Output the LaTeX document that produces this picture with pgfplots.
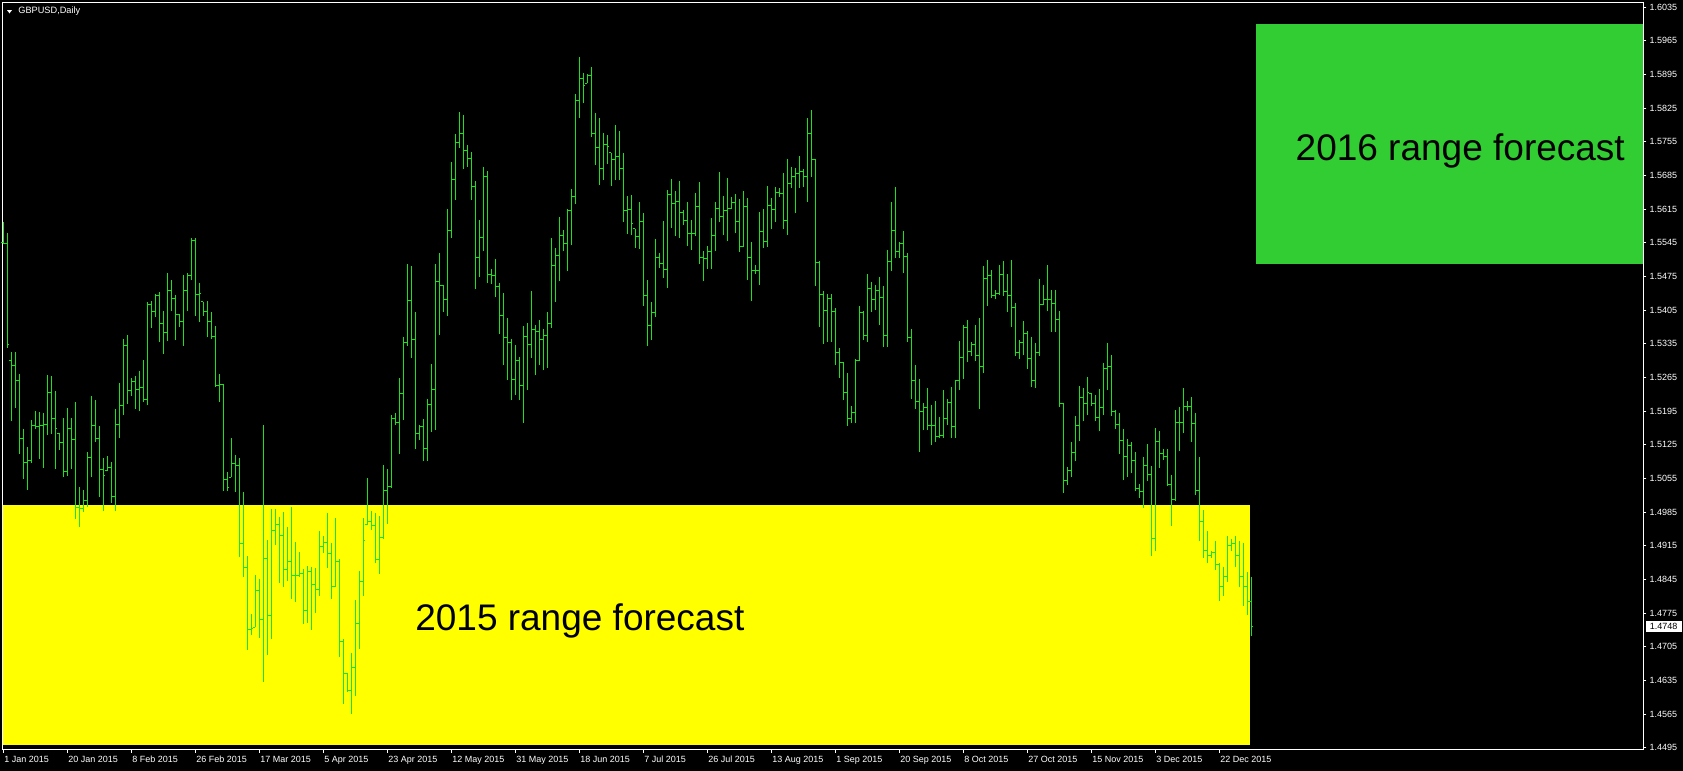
\documentclass[border=0pt]{standalone}
\usepackage{fontspec}
\setmainfont{Liberation Sans}
\usepackage{pgfplots}
\pgfplotsset{compat=1.18}
\usepackage{pgfplotstable}

\definecolor{barcol}{RGB}{30,225,30}
\definecolor{yel}{RGB}{255,255,0}
\definecolor{grn}{RGB}{50,205,50}

% close tick to the right, open tick to the left
\pgfdeclareplotmark{ctick}{\pgfpathmoveto{\pgfqpoint{0pt}{0pt}}\pgfpathlineto{\pgfqpoint{\pgfplotmarksize}{0pt}}\pgfusepathqstroke}
\pgfdeclareplotmark{otick}{\pgfpathmoveto{\pgfqpoint{0pt}{0pt}}\pgfpathlineto{\pgfqpoint{-\pgfplotmarksize}{0pt}}\pgfusepathqstroke}

% GBPUSD daily bars, 2015 (bar index, open, high, low, close)
\pgfplotstableread{
x o h l c
0 1.5545 1.5589 1.5542 1.5544
1 1.5544 1.5566 1.5327 1.5334
2 1.5301 1.5318 1.5175 1.5289
3 1.5289 1.5318 1.5202 1.5259
4 1.5259 1.5273 1.5106 1.5138
5 1.5138 1.5158 1.5054 1.5088
6 1.5088 1.5120 1.5031 1.5093
7 1.5093 1.5176 1.5088 1.5165
8 1.5165 1.5195 1.5158 1.5162
9 1.5162 1.5193 1.5096 1.5165
10 1.5165 1.5191 1.5077 1.5167
11 1.5167 1.5270 1.5145 1.5234
12 1.5234 1.5268 1.5148 1.5180
13 1.5180 1.5237 1.5075 1.5158
14 1.5149 1.5149 1.5113 1.5130
15 1.5130 1.5181 1.5057 1.5069
16 1.5069 1.5201 1.5059 1.5158
17 1.5158 1.5181 1.5075 1.5135
18 1.5135 1.5214 1.4971 1.4995
19 1.4995 1.5037 1.4953 1.4993
20 1.4993 1.5031 1.4986 1.5010
21 1.5010 1.5110 1.4996 1.5099
22 1.5099 1.5226 1.5057 1.5165
23 1.5165 1.5219 1.5131 1.5138
24 1.5138 1.5164 1.5017 1.5073
25 1.5073 1.5097 1.4988 1.5062
26 1.5071 1.5102 1.5071 1.5078
27 1.5078 1.5089 1.5004 1.5018
28 1.5018 1.5199 1.4988 1.5167
29 1.5167 1.5253 1.5138 1.5207
30 1.5207 1.5345 1.5187 1.5332
31 1.5332 1.5353 1.5210 1.5237
32 1.5237 1.5264 1.5227 1.5257
33 1.5257 1.5268 1.5200 1.5239
34 1.5239 1.5278 1.5196 1.5244
35 1.5244 1.5301 1.5214 1.5219
36 1.5219 1.5421 1.5208 1.5416
37 1.5416 1.5424 1.5368 1.5403
38 1.5403 1.5438 1.5391 1.5435
39 1.5435 1.5443 1.5339 1.5377
40 1.5377 1.5403 1.5314 1.5358
41 1.5358 1.5482 1.5341 1.5446
42 1.5446 1.5468 1.5404 1.5428
43 1.5428 1.5436 1.5343 1.5396
44 1.5396 1.5397 1.5369 1.5382
45 1.5382 1.5478 1.5331 1.5446
46 1.5446 1.5482 1.5402 1.5477
47 1.5477 1.5555 1.5468 1.5550
48 1.5550 1.5554 1.5393 1.5438
49 1.5438 1.5461 1.5381 1.5440
50 1.5422 1.5422 1.5393 1.5403
51 1.5403 1.5424 1.5349 1.5382
52 1.5382 1.5401 1.5344 1.5350
53 1.5350 1.5372 1.5246 1.5248
54 1.5248 1.5273 1.5213 1.5251
55 1.5251 1.5252 1.5029 1.5053
56 1.5053 1.5068 1.5029 1.5036
57 1.5057 1.5139 1.5057 1.5085
58 1.5085 1.5104 1.5027 1.5081
59 1.5081 1.5097 1.4892 1.4920
60 1.4920 1.5027 1.4851 1.4870
61 1.4870 1.4894 1.4698 1.4741
62 1.4741 1.4773 1.4729 1.4743
63 1.4746 1.4854 1.4746 1.4822
64 1.4822 1.4846 1.4724 1.4761
65 1.4761 1.5166 1.4632 1.4889
66 1.4889 1.4927 1.4688 1.4770
67 1.4770 1.4991 1.4722 1.4946
68 1.4946 1.4991 1.4917 1.4960
69 1.4960 1.4975 1.4838 1.4937
70 1.4937 1.4985 1.4830 1.4866
71 1.4866 1.4954 1.4842 1.4883
72 1.4883 1.4995 1.4805 1.4854
73 1.4854 1.4923 1.4797 1.4854
74 1.4854 1.4902 1.4851 1.4858
75 1.4858 1.4867 1.4753 1.4781
76 1.4781 1.4873 1.4755 1.4862
77 1.4862 1.4871 1.4739 1.4835
78 1.4835 1.4869 1.4776 1.4824
79 1.4824 1.4946 1.4811 1.4914
80 1.4914 1.4935 1.4899 1.4921
81 1.4921 1.4983 1.4869 1.4898
82 1.4898 1.4921 1.4804 1.4830
83 1.4830 1.4973 1.4829 1.4882
84 1.4882 1.4887 1.4684 1.4716
85 1.4716 1.4721 1.4586 1.4649
86 1.4649 1.4650 1.4611 1.4615
87 1.4615 1.4692 1.4566 1.4661
88 1.4661 1.4802 1.4603 1.4753
89 1.4753 1.4863 1.4701 1.4841
90 1.4841 1.4973 1.4811 1.4926
91 1.4959 1.5056 1.4959 1.4966
92 1.4966 1.4987 1.4948 1.4957
93 1.4957 1.4983 1.4880 1.4886
94 1.4886 1.4977 1.4857 1.4933
95 1.4933 1.5083 1.4929 1.5029
96 1.5029 1.5075 1.4961 1.5038
97 1.5038 1.5187 1.5036 1.5180
98 1.5180 1.5190 1.5165 1.5172
99 1.5172 1.5264 1.5106 1.5232
100 1.5232 1.5348 1.5176 1.5338
101 1.5338 1.5501 1.5331 1.5425
102 1.5425 1.5497 1.5306 1.5344
103 1.5344 1.5400 1.5117 1.5149
104 1.5149 1.5167 1.5135 1.5162
105 1.5162 1.5178 1.5092 1.5118
106 1.5118 1.5220 1.5092 1.5209
107 1.5209 1.5293 1.5152 1.5240
108 1.5240 1.5501 1.5156 1.5465
109 1.5465 1.5524 1.5353 1.5456
110 1.5456 1.5457 1.5401 1.5427
111 1.5427 1.5615 1.5393 1.5571
112 1.5571 1.5713 1.5555 1.5677
113 1.5677 1.5771 1.5633 1.5754
114 1.5754 1.5817 1.5741 1.5773
115 1.5773 1.5811 1.5699 1.5737
116 1.5737 1.5748 1.5703 1.5720
117 1.5720 1.5734 1.5634 1.5661
118 1.5661 1.5673 1.5449 1.5515
119 1.5515 1.5592 1.5474 1.5556
120 1.5556 1.5702 1.5528 1.5682
121 1.5682 1.5694 1.5462 1.5479
122 1.5479 1.5490 1.5459 1.5477
123 1.5477 1.5511 1.5433 1.5453
124 1.5453 1.5461 1.5356 1.5394
125 1.5394 1.5441 1.5291 1.5348
126 1.5348 1.5388 1.5260 1.5337
127 1.5337 1.5345 1.5218 1.5260
128 1.5260 1.5332 1.5228 1.5301
129 1.5301 1.5307 1.5218 1.5249
130 1.5249 1.5372 1.5170 1.5350
131 1.5350 1.5378 1.5239 1.5334
132 1.5334 1.5445 1.5305 1.5365
133 1.5365 1.5374 1.5270 1.5361
134 1.5361 1.5384 1.5291 1.5343
135 1.5343 1.5366 1.5280 1.5352
136 1.5352 1.5401 1.5285 1.5377
137 1.5377 1.5555 1.5368 1.5498
138 1.5498 1.5534 1.5422 1.5519
139 1.5519 1.5598 1.5465 1.5560
140 1.5560 1.5572 1.5528 1.5544
141 1.5544 1.5615 1.5486 1.5612
142 1.5612 1.5657 1.5540 1.5642
143 1.5642 1.5854 1.5625 1.5841
144 1.5841 1.5931 1.5804 1.5887
145 1.5887 1.5898 1.5835 1.5872
146 1.5876 1.5896 1.5876 1.5893
147 1.5893 1.5910 1.5765 1.5771
148 1.5771 1.5815 1.5707 1.5743
149 1.5743 1.5804 1.5665 1.5700
150 1.5700 1.5773 1.5675 1.5750
151 1.5750 1.5769 1.5709 1.5746
152 1.5732 1.5732 1.5663 1.5719
153 1.5719 1.5790 1.5675 1.5725
154 1.5725 1.5777 1.5675 1.5699
155 1.5699 1.5732 1.5588 1.5612
156 1.5612 1.5642 1.5563 1.5614
157 1.5614 1.5644 1.5561 1.5585
158 1.5574 1.5574 1.5534 1.5558
159 1.5558 1.5630 1.5532 1.5590
160 1.5590 1.5607 1.5413 1.5436
161 1.5436 1.5468 1.5330 1.5373
162 1.5373 1.5422 1.5343 1.5399
163 1.5399 1.5553 1.5391 1.5514
164 1.5514 1.5524 1.5492 1.5502
165 1.5502 1.5590 1.5472 1.5489
166 1.5489 1.5655 1.5451 1.5645
167 1.5645 1.5678 1.5576 1.5627
168 1.5627 1.5653 1.5559 1.5630
169 1.5630 1.5673 1.5555 1.5607
170 1.5607 1.5613 1.5582 1.5592
171 1.5592 1.5630 1.5538 1.5565
172 1.5565 1.5592 1.5530 1.5565
173 1.5565 1.5648 1.5558 1.5621
174 1.5621 1.5671 1.5501 1.5515
175 1.5515 1.5528 1.5466 1.5512
176 1.5512 1.5538 1.5491 1.5527
177 1.5527 1.5596 1.5491 1.5560
178 1.5560 1.5630 1.5528 1.5617
179 1.5617 1.5692 1.5587 1.5600
180 1.5600 1.5642 1.5562 1.5612
181 1.5612 1.5680 1.5549 1.5617
182 1.5617 1.5640 1.5616 1.5629
183 1.5629 1.5646 1.5566 1.5590
184 1.5590 1.5636 1.5526 1.5537
185 1.5537 1.5653 1.5537 1.5621
186 1.5621 1.5638 1.5468 1.5514
187 1.5514 1.5547 1.5424 1.5488
188 1.5488 1.5499 1.5479 1.5487
189 1.5487 1.5609 1.5458 1.5569
190 1.5569 1.5615 1.5535 1.5548
191 1.5548 1.5663 1.5537 1.5623
192 1.5623 1.5638 1.5574 1.5614
193 1.5614 1.5661 1.5589 1.5650
194 1.5650 1.5659 1.5641 1.5648
195 1.5648 1.5690 1.5574 1.5592
196 1.5592 1.5719 1.5562 1.5669
197 1.5669 1.5702 1.5659 1.5683
198 1.5683 1.5700 1.5607 1.5689
199 1.5689 1.5725 1.5659 1.5693
200 1.5693 1.5698 1.5661 1.5683
201 1.5683 1.5804 1.5630 1.5771
202 1.5771 1.5821 1.5682 1.5719
203 1.5719 1.5719 1.5454 1.5503
204 1.5503 1.5507 1.5370 1.5438
205 1.5438 1.5445 1.5335 1.5404
206 1.5404 1.5438 1.5339 1.5428
207 1.5428 1.5438 1.5339 1.5401
208 1.5401 1.5409 1.5291 1.5317
209 1.5317 1.5327 1.5264 1.5296
210 1.5296 1.5298 1.5219 1.5233
211 1.5233 1.5275 1.5164 1.5179
212 1.5179 1.5206 1.5171 1.5192
213 1.5192 1.5304 1.5171 1.5301
214 1.5301 1.5414 1.5300 1.5399
215 1.5399 1.5404 1.5343 1.5352
216 1.5352 1.5479 1.5339 1.5450
217 1.5450 1.5464 1.5400 1.5427
218 1.5427 1.5458 1.5406 1.5445
219 1.5445 1.5474 1.5373 1.5431
220 1.5431 1.5454 1.5329 1.5352
221 1.5352 1.5530 1.5329 1.5506
222 1.5506 1.5630 1.5487 1.5571
223 1.5571 1.5661 1.5514 1.5527
224 1.5527 1.5547 1.5514 1.5544
225 1.5544 1.5570 1.5481 1.5517
226 1.5517 1.5524 1.5339 1.5348
227 1.5348 1.5366 1.5221 1.5259
228 1.5259 1.5291 1.5200 1.5215
229 1.5215 1.5262 1.5110 1.5194
230 1.5194 1.5212 1.5156 1.5203
231 1.5203 1.5242 1.5156 1.5165
232 1.5165 1.5208 1.5125 1.5165
233 1.5165 1.5215 1.5131 1.5143
234 1.5143 1.5183 1.5138 1.5144
235 1.5144 1.5239 1.5138 1.5180
236 1.5180 1.5220 1.5166 1.5213
237 1.5213 1.5245 1.5138 1.5163
238 1.5163 1.5260 1.5140 1.5258
239 1.5258 1.5341 1.5239 1.5307
240 1.5307 1.5374 1.5262 1.5369
241 1.5369 1.5384 1.5298 1.5319
242 1.5319 1.5339 1.5310 1.5334
243 1.5334 1.5374 1.5300 1.5311
244 1.5311 1.5389 1.5200 1.5287
245 1.5287 1.5497 1.5275 1.5471
246 1.5471 1.5509 1.5414 1.5477
247 1.5477 1.5488 1.5431 1.5436
248 1.5436 1.5447 1.5427 1.5440
249 1.5440 1.5499 1.5437 1.5479
250 1.5479 1.5507 1.5435 1.5444
251 1.5444 1.5480 1.5400 1.5436
252 1.5436 1.5509 1.5370 1.5411
253 1.5411 1.5420 1.5310 1.5317
254 1.5317 1.5343 1.5304 1.5337
255 1.5337 1.5382 1.5312 1.5356
256 1.5356 1.5361 1.5283 1.5305
257 1.5305 1.5349 1.5246 1.5259
258 1.5259 1.5336 1.5242 1.5317
259 1.5317 1.5470 1.5310 1.5417
260 1.5417 1.5457 1.5415 1.5427
261 1.5427 1.5499 1.5404 1.5427
262 1.5427 1.5447 1.5360 1.5419
263 1.5419 1.5447 1.5360 1.5386
264 1.5386 1.5403 1.5204 1.5211
265 1.5211 1.5211 1.5025 1.5051
266 1.5051 1.5079 1.5042 1.5072
267 1.5072 1.5131 1.5057 1.5109
268 1.5109 1.5185 1.5092 1.5165
269 1.5165 1.5247 1.5133 1.5224
270 1.5224 1.5243 1.5175 1.5211
271 1.5211 1.5266 1.5187 1.5233
272 1.5232 1.5232 1.5206 1.5211
273 1.5211 1.5228 1.5175 1.5181
274 1.5181 1.5241 1.5154 1.5202
275 1.5202 1.5295 1.5187 1.5284
276 1.5284 1.5337 1.5239 1.5288
277 1.5288 1.5312 1.5185 1.5194
278 1.5194 1.5198 1.5158 1.5167
279 1.5167 1.5191 1.5106 1.5134
280 1.5134 1.5158 1.5052 1.5101
281 1.5101 1.5137 1.5057 1.5124
282 1.5124 1.5131 1.5067 1.5092
283 1.5092 1.5110 1.5029 1.5034
284 1.5034 1.5043 1.5015 1.5028
285 1.5028 1.5100 1.4994 1.5082
286 1.5082 1.5127 1.5050 1.5064
287 1.5064 1.5081 1.4894 1.4929
288 1.4929 1.5160 1.4903 1.5132
289 1.5132 1.5154 1.5077 1.5107
290 1.5107 1.5116 1.5094 1.5101
291 1.5101 1.5116 1.5040 1.5043
292 1.5043 1.5062 1.4957 1.5012
293 1.5012 1.5197 1.5007 1.5172
294 1.5172 1.5203 1.5111 1.5172
295 1.5172 1.5242 1.5150 1.5205
296 1.5205 1.5215 1.5195 1.5205
297 1.5205 1.5225 1.5130 1.5170
298 1.5170 1.5190 1.5020 1.5030
299 1.5030 1.5100 1.4925 1.4965
300 1.4965 1.4990 1.4890 1.4905
301 1.4905 1.4945 1.4880 1.4895
302 1.4895 1.4905 1.4890 1.4900
303 1.4900 1.4925 1.4865 1.4875
304 1.4875 1.4880 1.4800 1.4830
305 1.4830 1.4870 1.4810 1.4850
306 1.4850 1.4935 1.4840 1.4915
307 1.4915 1.4930 1.4905 1.4920
308 1.4920 1.4935 1.4870 1.4895
309 1.4895 1.4925 1.4830 1.4850
310 1.4850 1.4920 1.4790 1.4830
311 1.4830 1.4860 1.4770 1.4800
312 1.4800 1.4850 1.4728 1.4748
}\bars

\begin{document}
\begin{tikzpicture}
\path[use as bounding box, fill=black] (-1.35pt,-10.5pt) rectangle (840.15pt,375pt);
\begin{axis}[
    at={(0,0)}, anchor=south west,
    scale only axis, width=820.3pt, height=373.65pt,
    xmin=-0.15, xmax=410, ymin=1.44903, ymax=1.6044,
    axis line style={white, line width=0.5pt},
    xtick={0,16,...,304},
    xticklabels={1 Jan 2015, 20 Jan 2015, 8 Feb 2015, 26 Feb 2015, 17 Mar 2015,
      5 Apr 2015, 23 Apr 2015, 12 May 2015, 31 May 2015, 18 Jun 2015,
      7 Jul 2015, 26 Jul 2015, 13 Aug 2015, 1 Sep 2015, 20 Sep 2015,
      8 Oct 2015, 27 Oct 2015, 15 Nov 2015, 3 Dec 2015, 22 Dec 2015},
    ytick={1.4495,1.4565,1.4635,1.4705,1.4775,1.4845,1.4915,1.4985,1.5055,
      1.5125,1.5195,1.5265,1.5335,1.5405,1.5475,1.5545,1.5615,1.5685,
      1.5755,1.5825,1.5895,1.5965,1.6035},
    xtick pos=bottom, ytick pos=right,
    tick align=outside, major tick length=1.5pt,
    tick style={white, line width=0.5pt},
    ticklabel style={white, font=\fontsize{4.5}{5}\selectfont, inner sep=0pt},
    yticklabel style={anchor=west, xshift=1.5pt},
    xticklabel style={anchor=north west, xshift=0.3pt, yshift=-1.5pt},
    /pgf/number format/.cd, fixed, fixed zerofill, precision=4, assume math mode=true,
  ]
  % forecast ranges
  \addplot[draw=none, fill=yel, forget plot] coordinates
    {(-0.15,1.45) (311.7,1.45) (311.7,1.50) (-0.15,1.50)} -- cycle;
  \addplot[draw=none, fill=grn, forget plot] coordinates
    {(313.1,1.55) (410,1.55) (410,1.60) (313.1,1.60)} -- cycle;

  % high-low ranges with close ticks
  \addplot[only marks, mark=ctick, mark size=1pt, color=barcol, line width=0.5pt,
    error bars/.cd, y dir=both, y explicit, error mark=none,
    error bar style={color=barcol, line width=0.5pt}]
    table[x=x, y=c, y error plus expr=\thisrow{h}-\thisrow{c},
      y error minus expr=\thisrow{c}-\thisrow{l}] {\bars};
  % open ticks
  \addplot[only marks, mark=otick, mark size=1pt, color=barcol, line width=0.5pt]
    table[x=x, y=o] {\bars};

  \node[anchor=base west, inner sep=0pt, font=\fontsize{18.5}{20}\selectfont]
    at (axis cs:102.9,1.4738) {2015 range forecast};
  \node[anchor=base west, inner sep=0pt, font=\fontsize{18.5}{20}\selectfont]
    at (axis cs:323.0,1.5715) {2016 range forecast};
  \coordinate (tag) at (axis cs:410,1.4748);
\end{axis}
\node[anchor=west, fill=white, text=black, inner sep=0pt, minimum width=18pt,
  minimum height=5.5pt, font=\fontsize{4.5}{5}\selectfont] at ([xshift=1pt]tag) {1.4748};
\fill[white] (2.15pt,369.95pt) -- (4.65pt,369.95pt) -- (3.4pt,368.3pt) -- cycle;
\node[anchor=west, inner sep=0pt, text=white, font=\fontsize{4.6}{5}\selectfont]
  at (7.65pt,369.5pt) {GBPUSD,Daily};
\end{tikzpicture}
\end{document}
